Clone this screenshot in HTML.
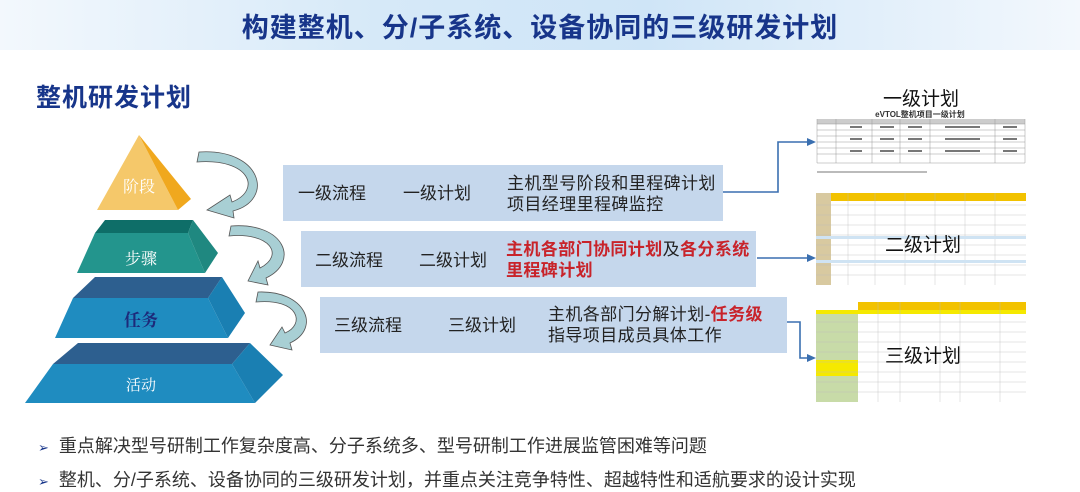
<!DOCTYPE html>
<html><head><meta charset="utf-8"><style>
*{margin:0;padding:0;box-sizing:border-box}
body{width:1080px;height:490px;background:#fff;position:relative;overflow:hidden;font-family:"Liberation Sans","Noto Sans CJK SC",sans-serif}
.hdr{position:absolute;left:0;top:0;width:1080px;height:50px;background:linear-gradient(90deg,#f3f8fd 0%,#d6e9f8 35%,#cfe5f7 60%,#f3f8fd 100%)}
.title{position:absolute;left:0;top:6px;width:1080px;text-align:center;font-size:27px;font-weight:bold;color:#17358a;letter-spacing:1px}
.sub{position:absolute;left:36px;top:78px;font-size:25px;font-weight:bold;color:#17358a;letter-spacing:1px}
.box{position:absolute;background:#c5d7ec;color:#222;font-size:17px}
.box span{position:absolute;white-space:nowrap;line-height:21px}
.box span.m{font-size:17px;letter-spacing:0.4px}
.r{color:#c8232a;font-weight:bold}
.bl{position:absolute;left:38px;font-size:18px;color:#333;white-space:nowrap}
.bl b{color:#17358a;font-size:13px;margin-right:10px;font-weight:normal}
.lbl{position:absolute;font-size:19px;color:#111;white-space:nowrap}
</style></head><body>
<div class="hdr"></div>
<div class="title">构建整机、分/子系统、设备协同的三级研发计划</div>
<div class="sub">整机研发计划</div>

<svg width="1080" height="490" style="position:absolute;left:0;top:0">
<polygon points="139,135 97,210 178,210" fill="#f5c86a"/>
<polygon points="139,135 178,210 191,199" fill="#f0a81e"/>
<polygon points="105,220 193,220 188,233 95,233" fill="#0e6e68"/>
<polygon points="95,233 188,233 205,273 77,273" fill="#23958d"/>
<polygon points="188,233 193,220 218,253 205,273" fill="#1f8880"/>
<polygon points="95,277 222,277 208,298 73,298" fill="#2d5f8f"/>
<polygon points="73,298 208,298 228,338 55,338" fill="#1f8cc0"/>
<polygon points="208,298 222,277 245,313 228,338" fill="#1a7fb2"/>
<polygon points="78,343 250,343 232,364 53,364" fill="#2d5f8f"/>
<polygon points="53,364 232,364 255,403 25,403" fill="#1f8cc0"/>
<polygon points="232,364 250,343 283,375 255,403" fill="#1a7fb2"/>
<text x="139" y="192" font-size="16" fill="#fff" text-anchor="middle" font-family="Noto Serif CJK SC,serif">阶段</text>
<text x="141" y="264" font-size="16" fill="#fff" text-anchor="middle" font-family="Noto Serif CJK SC,serif">步骤</text>
<text x="141" y="326" font-size="17" fill="#1d2a7a" font-weight="bold" text-anchor="middle" font-family="Noto Serif CJK SC,serif">任务</text>
<text x="141" y="390" font-size="15" fill="#fff" text-anchor="middle" font-family="Noto Serif CJK SC,serif">活动</text>
<g fill="#a8cfd4" stroke="#555" stroke-width="0.8">
<path d="M197,162 C250,158 262,190 232,202 L230,195 L207,210 L234,218 L233,211 C275,200 262,148 199,152 Z"/>
<path d="M229,236 C270,232 285,255 260,268 L258,261 L248,281 L268,285 L266,278 C300,262 285,222 231,226 Z"/>
<path d="M256,302 C300,298 305,325 285,333 L282,327 L270,345 L292,350 L290,343 C322,328 305,290 258,292 Z"/>
</g>
<g stroke="#3a6fb0" stroke-width="1.6" fill="none">
<polyline points="723,192 778,192 778,142 808,142"/>
<polyline points="757,258 808,258"/>
<polyline points="787,322 800,322 800,358 808,358"/>
</g>
<g fill="#3a6fb0">
<polygon points="816,142 807,138 807,146"/>
<polygon points="816,258 807,254 807,262"/>
<polygon points="816,358 807,354 807,362"/>
</g>
<g>
<rect x="816" y="110" width="210" height="70" fill="#fff"/>
<text x="920" y="117" font-size="8" text-anchor="middle" font-weight="bold" fill="#333">eVTOL整机项目一级计划</text>
<rect x="817" y="119" width="208" height="5" fill="#ccc"/>
<g stroke="#999" stroke-width="0.5">
<line x1="817" y1="124" x2="1025" y2="124"/><line x1="817" y1="130" x2="1025" y2="130"/><line x1="817" y1="136" x2="1025" y2="136"/><line x1="817" y1="142" x2="1025" y2="142"/><line x1="817" y1="148" x2="1025" y2="148"/><line x1="817" y1="154" x2="1025" y2="154"/><line x1="817" y1="163" x2="1025" y2="163"/>
<line x1="817" y1="119" x2="817" y2="163"/><line x1="836" y1="119" x2="836" y2="163"/><line x1="872" y1="119" x2="872" y2="163"/><line x1="900" y1="119" x2="900" y2="163"/><line x1="930" y1="119" x2="930" y2="163"/><line x1="995" y1="119" x2="995" y2="163"/><line x1="1025" y1="119" x2="1025" y2="163"/>
</g>
<g fill="#777"><rect x="850" y="126" width="12" height="2"/><rect x="880" y="126" width="14" height="2"/><rect x="908" y="126" width="14" height="2"/><rect x="945" y="126" width="35" height="2"/><rect x="1003" y="126" width="14" height="2"/>
<rect x="850" y="138" width="12" height="2"/><rect x="880" y="138" width="14" height="2"/><rect x="908" y="138" width="14" height="2"/><rect x="945" y="138" width="35" height="2"/><rect x="1003" y="138" width="14" height="2"/>
<rect x="850" y="150" width="12" height="2"/><rect x="880" y="150" width="14" height="2"/><rect x="908" y="150" width="14" height="2"/><rect x="945" y="150" width="35" height="2"/><rect x="1003" y="150" width="14" height="2"/>
<rect x="817" y="171" width="110" height="2" fill="#bbb"/></g>

<rect x="816" y="192" width="210" height="93" fill="#fff"/>
<rect x="816" y="193" width="210" height="8" fill="#f2c200"/>
<rect x="816" y="193" width="15" height="92" fill="#d8c9a0"/>
<g stroke="#bbb" stroke-width="0.4">
<line x1="816" y1="205" x2="1026" y2="205"/><line x1="816" y1="215" x2="1026" y2="215"/><line x1="816" y1="225" x2="1026" y2="225"/><line x1="816" y1="235" x2="1026" y2="235"/><line x1="816" y1="245" x2="1026" y2="245"/><line x1="816" y1="255" x2="1026" y2="255"/><line x1="816" y1="265" x2="1026" y2="265"/><line x1="816" y1="275" x2="1026" y2="275"/>
<line x1="848" y1="193" x2="848" y2="285"/><line x1="875" y1="193" x2="875" y2="285"/><line x1="905" y1="193" x2="905" y2="285"/><line x1="935" y1="193" x2="935" y2="285"/><line x1="965" y1="193" x2="965" y2="285"/><line x1="995" y1="193" x2="995" y2="285"/>
</g>
<rect x="816" y="236" width="210" height="3" fill="#cfe3f3"/>
<rect x="816" y="260" width="210" height="3" fill="#cfe3f3"/>

<rect x="816" y="300" width="210" height="102" fill="#fff"/>
<rect x="858" y="302" width="168" height="8" fill="#f2c200"/>
<rect x="816" y="310" width="210" height="4" fill="#f5e900"/>
<rect x="816" y="314" width="42" height="88" fill="#c8dba8"/>
<rect x="816" y="360" width="42" height="16" fill="#f5e900"/>
<g stroke="#bbb" stroke-width="0.4">
<line x1="816" y1="322" x2="1026" y2="322"/><line x1="816" y1="332" x2="1026" y2="332"/><line x1="816" y1="342" x2="1026" y2="342"/><line x1="816" y1="352" x2="1026" y2="352"/><line x1="816" y1="362" x2="1026" y2="362"/><line x1="816" y1="372" x2="1026" y2="372"/><line x1="816" y1="382" x2="1026" y2="382"/><line x1="816" y1="392" x2="1026" y2="392"/>
<line x1="878" y1="302" x2="878" y2="402"/><line x1="900" y1="302" x2="900" y2="402"/><line x1="940" y1="302" x2="940" y2="402"/><line x1="960" y1="302" x2="960" y2="402"/><line x1="1000" y1="302" x2="1000" y2="402"/>
</g>
</g>
</svg>

<div class="lbl" style="left:883px;top:84px">一级计划</div>
<div class="lbl" style="left:885px;top:230px">二级计划</div>
<div class="lbl" style="left:885px;top:341px">三级计划</div>

<div class="box" style="left:283px;top:165px;width:440px;height:56px">
<span style="left:15px;top:18px">一级流程</span><span style="left:120px;top:18px">一级计划</span>
<span class="m" style="left:224px;top:8px">主机型号阶段和里程碑计划<br>项目经理里程碑监控</span></div>
<div class="box" style="left:301px;top:231px;width:455px;height:56px">
<span style="left:14px;top:19px">二级流程</span><span style="left:118px;top:19px">二级计划</span>
<span class="m" style="left:205px;top:8px"><b class="r">主机各部门协同计划</b>及<b class="r">各分系统</b><br><b class="r">里程碑计划</b></span></div>
<div class="box" style="left:320px;top:297px;width:467px;height:56px">
<span style="left:14px;top:18px">三级流程</span><span style="left:128px;top:18px">三级计划</span>
<span class="m" style="left:228px;top:7px">主机各部门分解计划-<b class="r">任务级</b><br>指导项目成员具体工作</span></div>

<div class="bl" style="top:432px"><b>➢</b>重点解决型号研制工作复杂度高、分子系统多、型号研制工作进展监管困难等问题</div>
<div class="bl" style="top:466px"><b>➢</b>整机、分/子系统、设备协同的三级研发计划，并重点关注竞争特性、超越特性和适航要求的设计实现</div>
</body></html>
